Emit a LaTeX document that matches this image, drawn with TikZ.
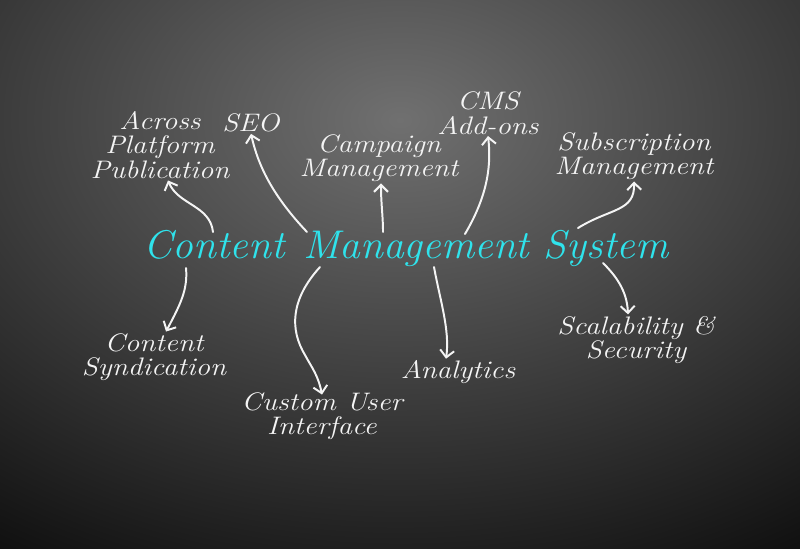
\documentclass[tikz,border=0pt]{standalone}
\usepackage{tikz}
\usepackage{xcolor}
\usetikzlibrary{arrows.meta}
\definecolor{ChalkWhite}{HTML}{F4F4F4}
\definecolor{CyanCMS}{HTML}{2FE3EC}
\definecolor{BoardLight}{HTML}{707070}
\definecolor{BoardDark}{HTML}{030303}
\newcommand\nodecms{Content\hspace{0.45em}Management System}
\newcommand\nodeapp{Across\\Platform\\Publication}
\newcommand\nodeseo{SEO}
\newcommand\nodecm{Campaign\\Management}
\newcommand\nodeaddon{CMS\\Add-ons}
\newcommand\nodesm{Subscription\\Management}
\newcommand\nodecs{Content\\Syndication}
\newcommand\nodecui{Custom User\\Interface}
\newcommand\nodean{Analytics}
\newcommand\nodess{Scalability \&\\Security}
\tikzstyle{chalknode} = [text=ChalkWhite, align=center, inner sep=0.5pt,
  xscale=1.15, transform shape, font=\fontsize{18}{17.5}\selectfont\itshape]
\tikzstyle{titlenode} = [text=CyanCMS, inner sep=1pt,
  xscale=1.035, transform shape, font=\fontsize{28.5}{30}\selectfont\itshape]
\tikzstyle{chalkline} = [draw=ChalkWhite, ->, line cap=round]
\tikzset{>={Straight Barb[length=5pt,width=10pt]}, every picture/.style={line width=1.4pt}}

\begin{document}
\begin{tikzpicture}[x=0.025cm, y=-0.025cm]
% board
\useasboundingbox (0,0) rectangle (800,548);
\fill[BoardDark] (0,0) rectangle (800,548);
\begin{scope}
\clip (0,0) rectangle (800,548);
\shade[inner color=BoardLight, outer color=BoardDark] (400,120) ellipse (840 and 580);
\end{scope}
% nodes
\node[titlenode] (cms) at (406,248) {\nodecms};
\node[chalknode] (app) at (160,145) {\nodeapp};
\node[chalknode] (seo) at (251,123) {\nodeseo};
\node[chalknode] (cm) at (379,158) {\nodecm};
\node[chalknode] (addon) at (488,113) {\nodeaddon};
\node[chalknode] (sm) at (634,156) {\nodesm};
\node[chalknode] (cs) at (154,357) {\nodecs};
\node[chalknode] (cui) at (322,416) {\nodecui};
\node[chalknode] (an) at (458,372) {\nodean};
\node[chalknode] (ss) at (636,340) {\nodess};
% start points on the title
\coordinate (t1) at (213,232);
\coordinate (t2) at (307,232);
\coordinate (t3) at (383,232);
\coordinate (t4) at (465,234);
\coordinate (t5) at (578,228);
\coordinate (b1) at (186,268);
\coordinate (b2) at (320,267);
\coordinate (b3) at (434,267);
\coordinate (b4) at (603,263);
% arrows
\draw[chalkline] (t1) .. controls (210,205) and (178,205) .. ([xshift=0.2cm]app.south);
\draw[chalkline] (t2) .. controls (272,195) and (258,165) .. (seo.south);
\draw[chalkline] (t3) .. controls (383,215) and (381,205) .. ([xshift=0.05cm]cm.south);
\draw[chalkline] (t4) .. controls (485,200) and (492,170) .. (addon.south);
\draw[chalkline] (t5) .. controls (610,208) and (635,212) .. (sm.south);
\draw[chalkline] (b1) .. controls (188,290) and (180,305) .. ([xshift=0.3cm]cs.north);
\draw[chalkline] (b2) .. controls (290,300) and (290,330) .. (305,355) .. controls (312,368) and (318,375) .. ([yshift=-0.1cm]cui.north);
\draw[chalkline] (b3) .. controls (440,300) and (450,330) .. ([xshift=-0.3cm]an.north);
\draw[chalkline] (b4) .. controls (615,275) and (627,290) .. ([xshift=-0.2cm]ss.north);
\end{tikzpicture}
\end{document}
